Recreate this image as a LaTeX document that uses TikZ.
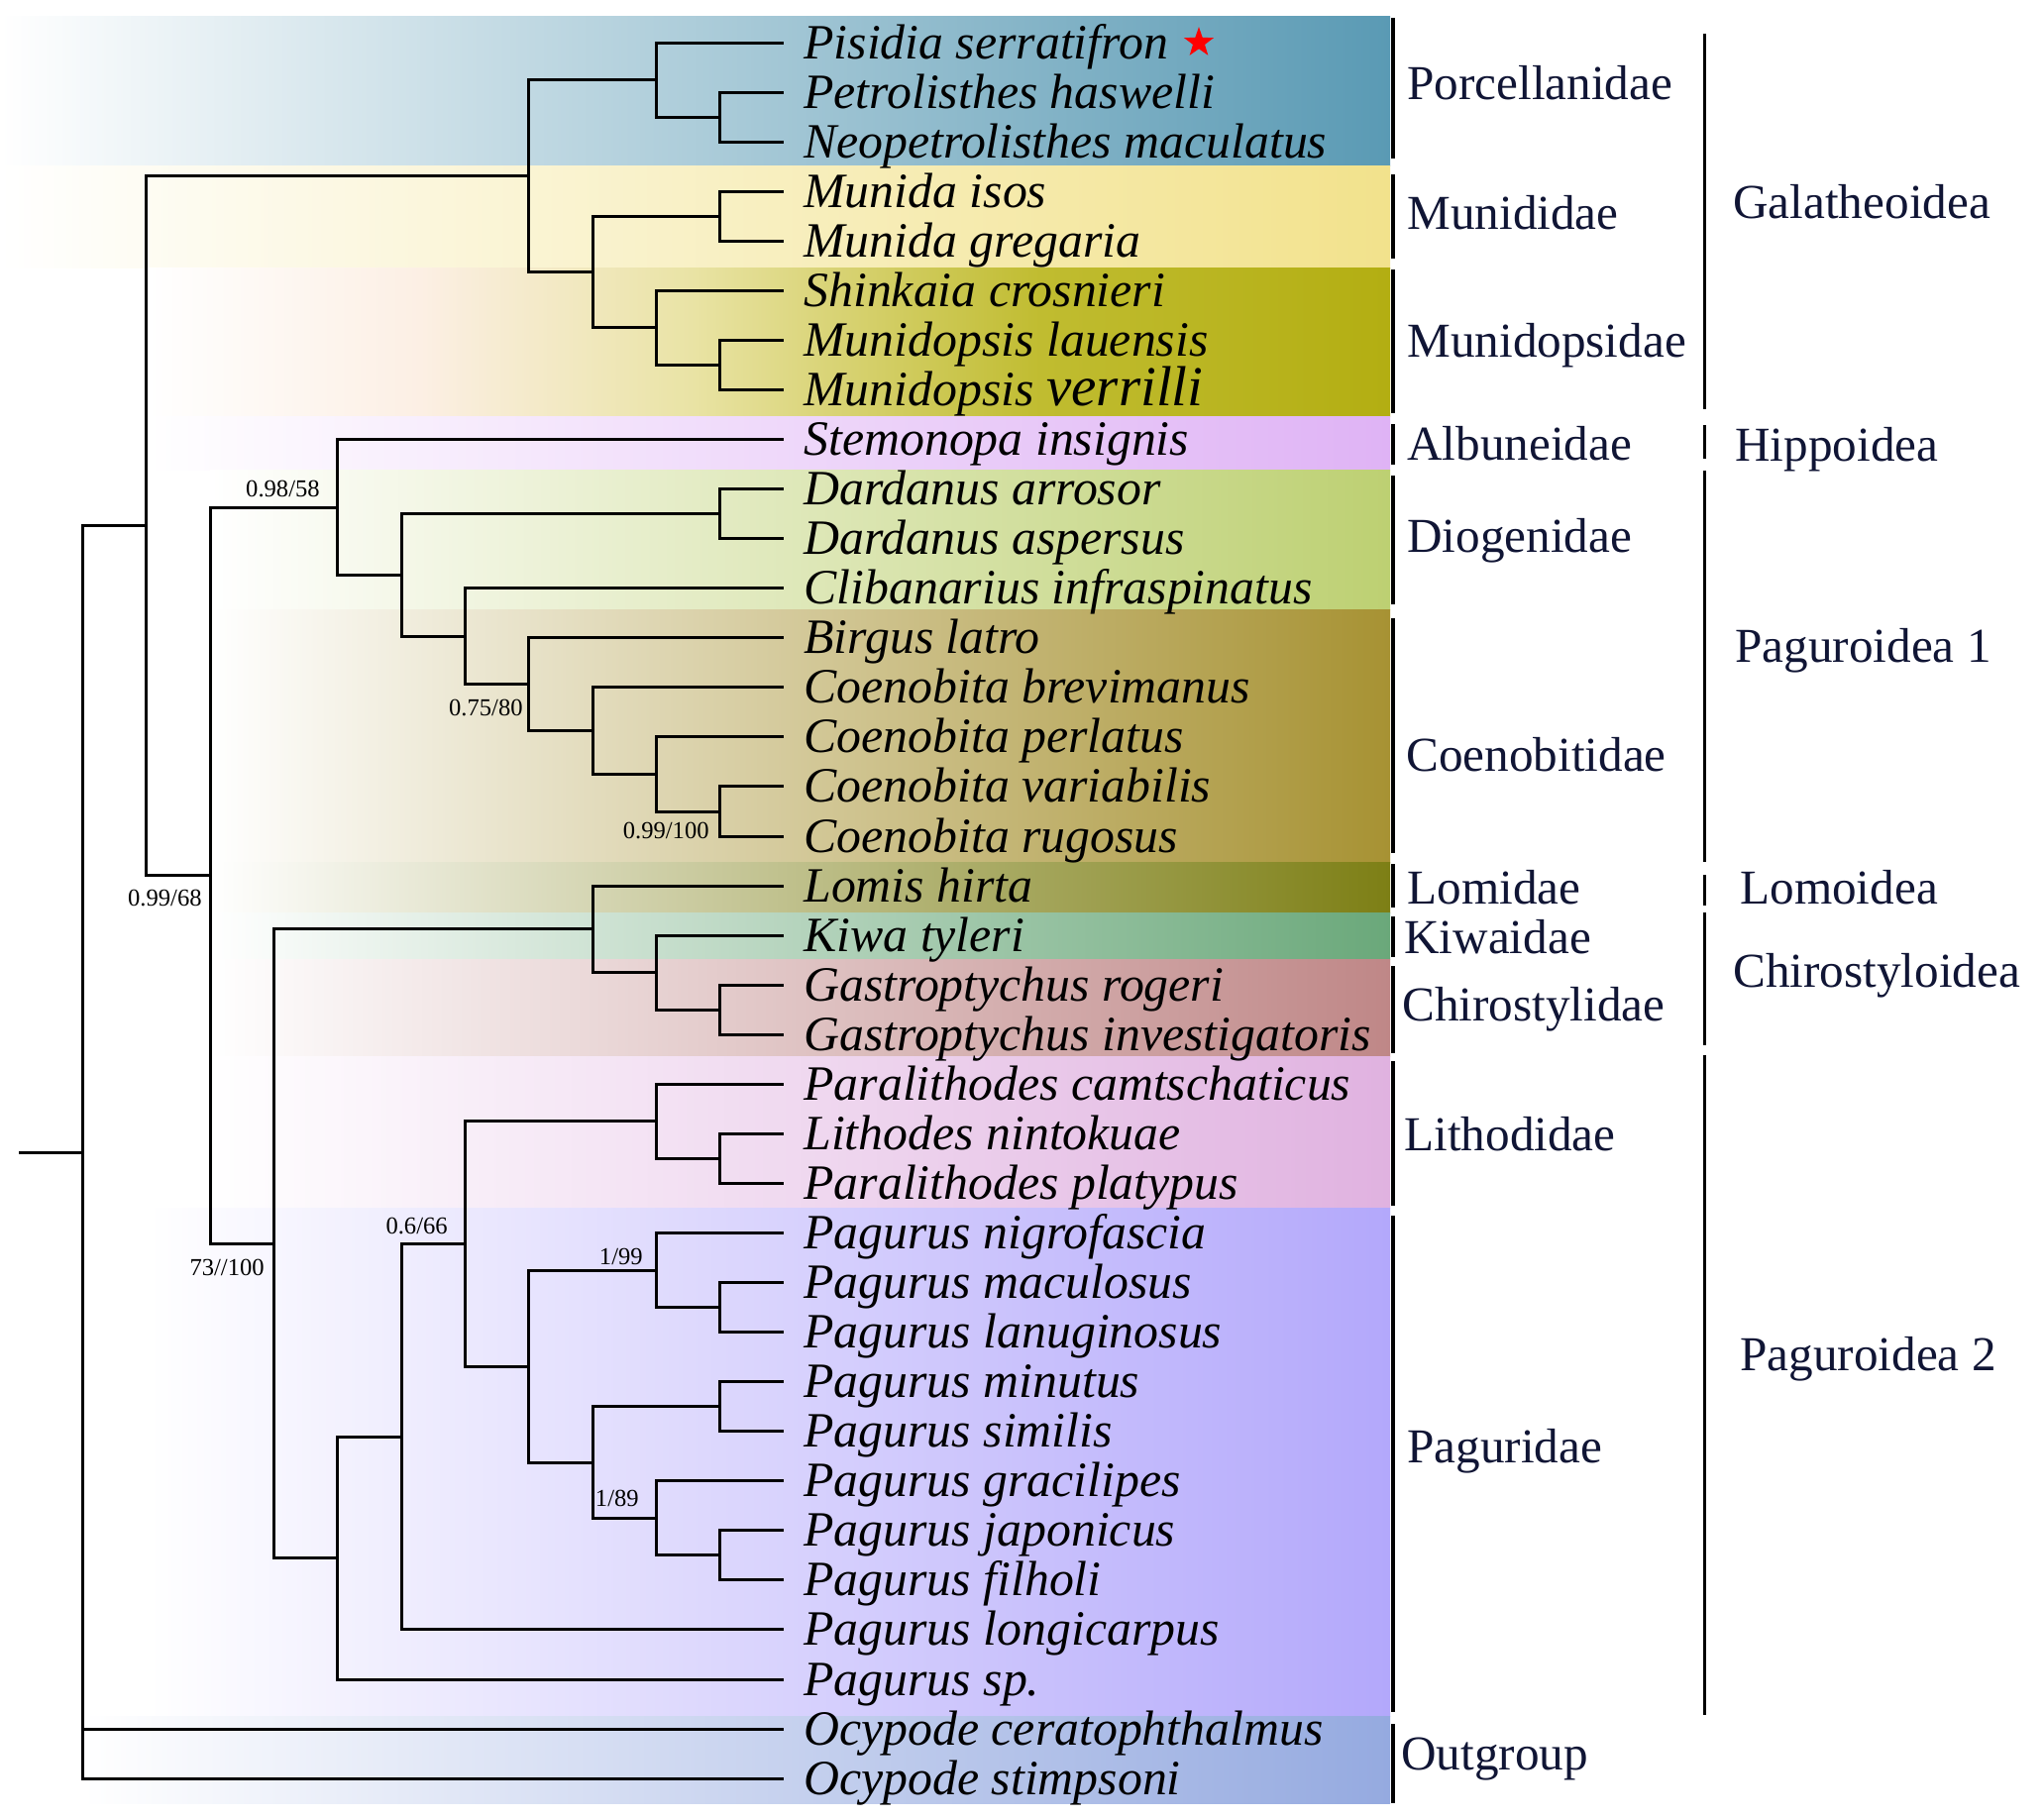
\documentclass[tikz,border=0pt]{standalone}
\usepackage{fontspec}
\setmainfont{Liberation Serif}
\usetikzlibrary{shapes.geometric}

\definecolor{cPorc}{HTML}{5A9AB4}
\definecolor{cMuni}{HTML}{F2E28C}
\definecolor{cPeach}{HTML}{FCEFE4}
\definecolor{cMdpsL}{HTML}{E9E3A4}
\definecolor{cMdpsM}{HTML}{C0BC30}
\definecolor{cMdps}{HTML}{B3AE12}
\definecolor{cAlbu}{HTML}{DFB3F5}
\definecolor{cDiog}{HTML}{BDD072}
\definecolor{cCoen}{HTML}{A79233}
\definecolor{cLomi}{HTML}{7D7F15}
\definecolor{cKiwa}{HTML}{6AA87A}
\definecolor{cChir}{HTML}{BF8787}
\definecolor{cLith}{HTML}{E0B2E0}
\definecolor{cPagu}{HTML}{B3A8FB}
\definecolor{cOutg}{HTML}{95AAE0}
\definecolor{famtext}{HTML}{101535}

\begin{document}
\begin{tikzpicture}[x=0.5pt, y=-0.5pt]
	\tikzstyle{leaf} = [anchor=west, inner sep=0pt, text height=20pt, text depth=4pt, font=\fontsize{24.9}{24.9}\selectfont\itshape]
	\tikzstyle{family} = [anchor=base west, inner sep=0pt, text=famtext, font=\fontsize{24.6}{24.6}\selectfont]
	\tikzstyle{support} = [inner sep=0pt, font=\fontsize{12.3}{12.3}\selectfont]
	\tikzstyle{branch} = [line width=1.5pt, every edge/.style={draw, line width=1.5pt, to path={|- (\tikztotarget)}}]
	\tikzstyle{tip} = [line width=1.5pt, shorten >=10pt]
	\tikzstyle{bracket} = [line width=2pt]
	\tikzstyle{superline} = [line width=1.5pt]

	\useasboundingbox (0, 0) rectangle (2063, 1836);

	% clade bands
	\shade[left color=white, right color=cPorc] (0, 16) rectangle (1403, 167);
	\shade[left color=white, right color=cMuni] (0, 167) rectangle (1403, 270);
	\shade[left color=white, right color=cMdpsL, middle color=cPeach] (148, 270) rectangle (701, 420);
	\shade[left color=cMdpsL, right color=cMdps, middle color=cMdpsM] (700, 270) rectangle (1403, 420);
	\shade[left color=white, right color=cAlbu] (148, 420) rectangle (1403, 474);
	\shade[left color=white, right color=cDiog] (212, 474) rectangle (1403, 615);
	\shade[left color=white, right color=cCoen] (212, 615) rectangle (1403, 870);
	\shade[left color=white, right color=cLomi] (212, 870) rectangle (1403, 921);
	\shade[left color=white, right color=cKiwa] (212, 921) rectangle (1403, 968);
	\shade[left color=white, right color=cChir] (212, 968) rectangle (1403, 1066);
	\shade[left color=white, right color=cLith] (212, 1066) rectangle (1403, 1219);
	\shade[left color=white, right color=cPagu] (148, 1219) rectangle (1403, 1732);
	\shade[left color=white, right color=cOutg] (83, 1732) rectangle (1403, 1820);

	\node[leaf] at (811, 43)		(pser)	{Pisidia serratifron};
	\node[leaf] at (811, 93.1)		(phas)	{Petrolisthes haswelli};
	\node[leaf] at (811, 143.1)		(nmac)	{Neopetrolisthes maculatus};
	\node[leaf] at (811, 193.2)		(miso)	{Munida isos};
	\node[leaf] at (811, 243.2)		(mgre)	{Munida gregaria};
	\node[leaf] at (811, 293.3)		(scro)	{Shinkaia crosnieri};
	\node[leaf] at (811, 343.4)		(mlau)	{Munidopsis lauensis};
	\node[leaf] at (811, 393.4)		(mver)	{Munidopsis {\fontsize{28.5}{28.5}\selectfont verrilli}};
	\node[leaf] at (811, 443.5)		(sins)	{Stemonopa insignis};
	\node[leaf] at (811, 493.5)		(darr)	{Dardanus arrosor};
	\node[leaf] at (811, 543.6)		(dasp)	{Dardanus aspersus};
	\node[leaf] at (811, 593.7)		(cinf)	{Clibanarius infraspinatus};
	\node[leaf] at (811, 643.7)		(blat)	{Birgus latro};
	\node[leaf] at (811, 693.8)		(cbre)	{Coenobita brevimanus};
	\node[leaf] at (811, 743.8)		(cper)	{Coenobita perlatus};
	\node[leaf] at (811, 793.9)		(cvar)	{Coenobita variabilis};
	\node[leaf] at (811, 844)		(crug)	{Coenobita rugosus};
	\node[leaf] at (811, 894)		(lhir)	{Lomis hirta};
	\node[leaf] at (811, 944.1)		(ktyl)	{Kiwa tyleri};
	\node[leaf] at (811, 994.1)		(grog)	{Gastroptychus rogeri};
	\node[leaf] at (811, 1044.2)	(ginv)	{Gastroptychus investigatoris};
	\node[leaf] at (811, 1094.3)	(pcam)	{Paralithodes camtschaticus};
	\node[leaf] at (811, 1144.3)	(lnin)	{Lithodes nintokuae};
	\node[leaf] at (811, 1194.4)	(ppla)	{Paralithodes platypus};
	\node[leaf] at (811, 1244.4)	(pnig)	{Pagurus nigrofascia};
	\node[leaf] at (811, 1294.5)	(pmac)	{Pagurus maculosus};
	\node[leaf] at (811, 1344.6)	(plan)	{Pagurus lanuginosus};
	\node[leaf] at (811, 1394.6)	(pmin)	{Pagurus minutus};
	\node[leaf] at (811, 1444.7)	(psim)	{Pagurus similis};
	\node[leaf] at (811, 1494.7)	(pgra)	{Pagurus gracilipes};
	\node[leaf] at (811, 1544.8)	(pjap)	{Pagurus japonicus};
	\node[leaf] at (811, 1594.9)	(pfil)	{Pagurus filholi};
	\node[leaf] at (811, 1644.9)	(plon)	{Pagurus longicarpus};
	\node[leaf] at (811, 1695)		(psp)	{Pagurus sp.};
	\node[leaf] at (811, 1745)		(ocer)	{Ocypode ceratophthalmus};
	\node[leaf] at (811, 1795.1)	(osti)	{Ocypode stimpsoni};

	\node[star, star points=5, star point ratio=2.5, fill=red, inner sep=0pt, minimum size=15.8pt] at (1210, 43) (mark) {};

	\coordinate (root)		at (19, 1163);
	\coordinate (crown)		at (83.3, 1163);
	\coordinate (anomura)	at (147.7, 530.6);
	\coordinate (galath)	at (533.6, 177.5);
	\coordinate (porcel)	at (662.3, 80.5);
	\coordinate (petrol)	at (726.6, 118);
	\coordinate (munidmix)	at (598, 274.5);
	\coordinate (munida)	at (726.6, 218.2);
	\coordinate (munidops)	at (662.3, 330.9);
	\coordinate (mlauver)	at (726.6, 368.4);
	\coordinate (pagurmix)	at (212, 883.6);
	\coordinate (hippo)		at (340.7, 512);
	\coordinate (diogcoen)	at (405, 580.4);
	\coordinate (dardanus)	at (726.6, 518.6);
	\coordinate (clibcoen)	at (469.3, 642.2);
	\coordinate (coenob)	at (533.6, 690.7);
	\coordinate (coenB)		at (598, 737.6);
	\coordinate (coenC)		at (662.3, 781.4);
	\coordinate (coenD)		at (726.6, 819);
	\coordinate (lower)		at (276.3, 1255.2);
	\coordinate (chiro)		at (598, 937.8);
	\coordinate (kiwagas)	at (662.3, 981.6);
	\coordinate (gastro)	at (726.6, 1019.2);
	\coordinate (pagsp)		at (340.7, 1572.6);
	\coordinate (paglong)	at (405, 1450.2);
	\coordinate (lithpag)	at (469.3, 1255.4);
	\coordinate (lithod)	at (662.3, 1131.8);
	\coordinate (lithB)		at (726.6, 1169.4);
	\coordinate (pagurus)	at (533.6, 1379);
	\coordinate (pagA)		at (662.3, 1282);
	\coordinate (pagAB)		at (726.6, 1319.5);
	\coordinate (pagB)		at (598, 1476);
	\coordinate (pagBA)		at (726.6, 1419.7);
	\coordinate (pagBB)		at (662.3, 1532.3);
	\coordinate (pagBBB)	at (726.6, 1569.8);

	\path[branch]
	(root)		edge	(crown)
	(crown)		edge	(anomura)
	(crown)		edge[tip]	(ocer.west)
	(crown)		edge[tip]	(osti.west)
	(anomura)	edge	(galath)
	(anomura)	edge	(pagurmix)
	(galath)	edge	(porcel)
	(galath)	edge	(munidmix)
	(porcel)	edge[tip]	(pser.west)
	(porcel)	edge	(petrol)
	(petrol)	edge[tip]	(phas.west)
	(petrol)	edge[tip]	(nmac.west)
	(munidmix)	edge	(munida)
	(munidmix)	edge	(munidops)
	(munida)	edge[tip]	(miso.west)
	(munida)	edge[tip]	(mgre.west)
	(munidops)	edge[tip]	(scro.west)
	(munidops)	edge	(mlauver)
	(mlauver)	edge[tip]	(mlau.west)
	(mlauver)	edge[tip]	(mver.west)
	(pagurmix)	edge	(hippo)
	(pagurmix)	edge	(lower)
	(hippo)		edge[tip]	(sins.west)
	(hippo)		edge	(diogcoen)
	(diogcoen)	edge	(dardanus)
	(diogcoen)	edge	(clibcoen)
	(dardanus)	edge[tip]	(darr.west)
	(dardanus)	edge[tip]	(dasp.west)
	(clibcoen)	edge[tip]	(cinf.west)
	(clibcoen)	edge	(coenob)
	(coenob)	edge[tip]	(blat.west)
	(coenob)	edge	(coenB)
	(coenB)		edge[tip]	(cbre.west)
	(coenB)		edge	(coenC)
	(coenC)		edge[tip]	(cper.west)
	(coenC)		edge	(coenD)
	(coenD)		edge[tip]	(cvar.west)
	(coenD)		edge[tip]	(crug.west)
	(lower)		edge	(chiro)
	(lower)		edge	(pagsp)
	(chiro)		edge[tip]	(lhir.west)
	(chiro)		edge	(kiwagas)
	(kiwagas)	edge[tip]	(ktyl.west)
	(kiwagas)	edge	(gastro)
	(gastro)	edge[tip]	(grog.west)
	(gastro)	edge[tip]	(ginv.west)
	(pagsp)		edge	(paglong)
	(pagsp)		edge[tip]	(psp.west)
	(paglong)	edge	(lithpag)
	(paglong)	edge[tip]	(plon.west)
	(lithpag)	edge	(lithod)
	(lithpag)	edge	(pagurus)
	(lithod)	edge[tip]	(pcam.west)
	(lithod)	edge	(lithB)
	(lithB)		edge[tip]	(lnin.west)
	(lithB)		edge[tip]	(ppla.west)
	(pagurus)	edge	(pagA)
	(pagurus)	edge	(pagB)
	(pagA)		edge[tip]	(pnig.west)
	(pagA)		edge	(pagAB)
	(pagAB)		edge[tip]	(pmac.west)
	(pagAB)		edge[tip]	(plan.west)
	(pagB)		edge	(pagBA)
	(pagB)		edge	(pagBB)
	(pagBA)		edge[tip]	(pmin.west)
	(pagBA)		edge[tip]	(psim.west)
	(pagBB)		edge[tip]	(pgra.west)
	(pagBB)		edge	(pagBBB)
	(pagBBB)	edge[tip]	(pjap.west)
	(pagBBB)	edge[tip]	(pfil.west);

	% support values
	\node[support, anchor=south east] at ([xshift=-8.8pt, yshift=5pt]hippo)		(s1) {0.98/58};
	\node[support, anchor=north east] at ([xshift=-4pt, yshift=-7pt]pagurmix)	(s2) {0.99/68};
	\node[support, anchor=north east] at ([xshift=-2.8pt, yshift=-7.5pt]coenob)	(s3) {0.75/80};
	\node[support, anchor=north east] at ([xshift=-5.3pt, yshift=-5.5pt]coenD)	(s4) {0.99/100};
	\node[support, anchor=north east] at ([xshift=-4.6pt, yshift=-7.6pt]lower)	(s5) {73//100};
	\node[support, anchor=south east] at ([xshift=-8.6pt, yshift=4.5pt]lithpag)	(s6) {0.6/66};
	\node[support, anchor=south east] at ([xshift=-6.6pt, yshift=2.5pt]pagA)	(s7) {1/99};
	\node[support, anchor=south east] at ([xshift=-8.6pt, yshift=5.6pt]pagBB)	(s8) {1/89};

	% families
	\draw[bracket] (1406, 18) -- (1406, 160);
	\draw[bracket] (1406, 176) -- (1406, 261);
	\draw[bracket] (1406, 272) -- (1406, 417);
	\draw[bracket] (1406, 428) -- (1406, 469);
	\draw[bracket] (1406, 480) -- (1406, 610);
	\draw[bracket] (1406, 624) -- (1406, 861);
	\draw[bracket] (1406, 872) -- (1406, 916);
	\draw[bracket] (1406, 925) -- (1406, 966);
	\draw[bracket] (1406, 975) -- (1406, 1063);
	\draw[bracket] (1406, 1071) -- (1406, 1217);
	\draw[bracket] (1406, 1227) -- (1406, 1728);
	\draw[bracket] (1406, 1740) -- (1406, 1820);

	\node[family] at (1420, 100)	(fporc)	{Porcellanidae};
	\node[family] at (1420, 231)	(fmuni)	{Munididae};
	\node[family] at (1420, 360)	(fmdps)	{Munidopsidae};
	\node[family] at (1420, 464)	(falbu)	{Albuneidae};
	\node[family] at (1420, 557)	(fdiog)	{Diogenidae};
	\node[family] at (1419, 778)	(fcoen)	{Coenobitidae};
	\node[family] at (1420, 912)	(flomi)	{Lomidae};
	\node[family] at (1417, 962)	(fkiwa)	{Kiwaidae};
	\node[family] at (1415, 1030)	(fchir)	{Chirostylidae};
	\node[family] at (1417, 1161)	(flith)	{Lithodidae};
	\node[family] at (1420, 1476)	(fpagu)	{Paguridae};
	\node[family] at (1414, 1786)	(foutg)	{Outgroup};

	% superfamilies
	\draw[superline] (1720, 34) -- (1720, 413);
	\draw[superline] (1720, 429) -- (1720, 463);
	\draw[superline] (1720, 475) -- (1720, 870);
	\draw[superline] (1720, 883) -- (1720, 914);
	\draw[superline] (1720, 921) -- (1720, 1055);
	\draw[superline] (1720, 1065) -- (1720, 1731);

	\node[family] at (1749, 220)	(sgal)	{Galatheoidea};
	\node[family] at (1751, 465)	(ship)	{Hippoidea};
	\node[family] at (1751, 668)	(spag1)	{Paguroidea 1};
	\node[family] at (1756, 912)	(slom)	{Lomoidea};
	\node[family] at (1749, 996)	(schi)	{Chirostyloidea};
	\node[family] at (1756, 1383)	(spag2)	{Paguroidea 2};
\end{tikzpicture}
\end{document}
